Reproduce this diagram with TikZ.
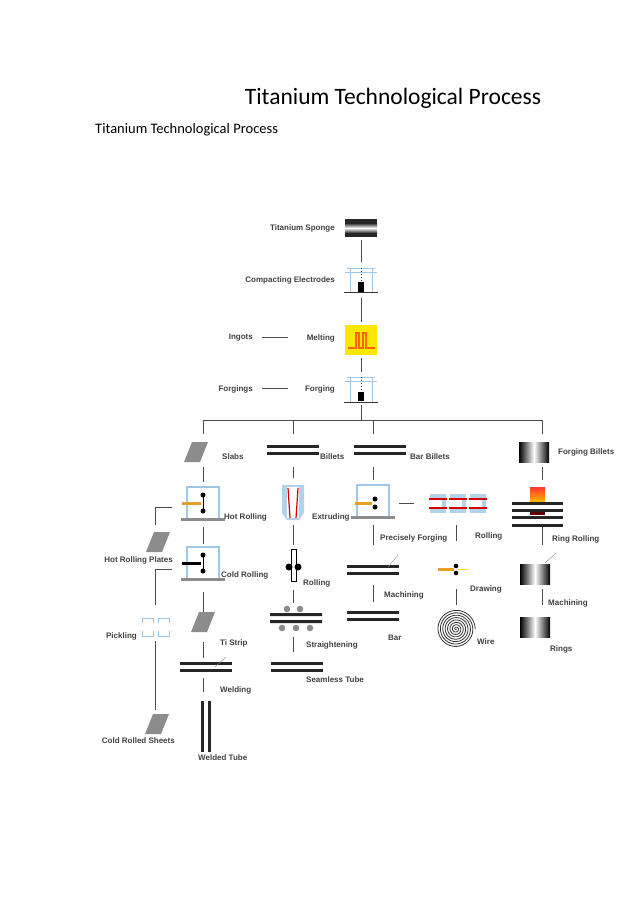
\documentclass[tikz,border=0pt]{standalone}
\usepackage{fontspec}
\setmainfont{Carlito}
\newfontfamily\lblfont{Liberation Sans}
\usetikzlibrary{calc}
\definecolor{frameblue}{RGB}{160,200,230}
\definecolor{rodorange}{RGB}{230,160,40}
\definecolor{gray1}{RGB}{140,140,140}
\begin{document}
\begin{tikzpicture}[x=1pt,y=-1pt,
  lbl/.style={font=\lblfont\bfseries\fontsize{8}{9}\selectfont, text=black!75, inner sep=0},
  ln/.style={draw=black!70, line width=0.9pt},
  bar/.style={fill=black!85},
  para/.style={fill=gray1},
  fr/.style={draw=frameblue, line width=1.6pt},
  pics/dbars/.style={code={
    \fill[black!85] (-26,-5) rectangle (26,-2);
    \fill[black!85] (-26,2) rectangle (26,5);}},
  pics/plate/.style={code={
    \fill[gray1] (-12,10) -- (-4,-10) -- (12,-10) -- (4,10) -- cycle;}},
  pics/press/.style={code={
    \draw[fr] (-16,15) -- (-16,-16) -- (16,-16) -- (16,15);
    \fill[gray1] (-22,15) rectangle (22,18);}},
  pics/gradsq/.style={code={
    \shade[left color=black, right color=black, middle color=white] (-15,-10) rectangle (15,10);}},
]
\useasboundingbox (0,0) rectangle (638,903);
% titles
\node[font=\fontsize{23.5}{28}\selectfont, anchor=base] (title) at (393,104) {Titanium Technological Process};
\node[font=\fontsize{14.5}{17}\selectfont, anchor=base west, inner sep=0] (sub) at (95,133) {Titanium Technological Process};

% ---------- main column x=361
\fill[black!85] (345,219) rectangle (377,223);
\shade[top color=black!85,bottom color=black!85,middle color=white] (345,223) rectangle (377,233);
\fill[black!85] (345,233) rectangle (377,237);
\node[lbl, anchor=east] (sponge) at (335,228) {Titanium Sponge};
\coordinate (m1a) at (361,240); \coordinate (m1b) at (361,262);
\draw[ln] (m1a) -- (m1b);
% compacting
\draw[fr,line width=1pt] (347,268) -- (375,268) (345,272)--(377,272) (350,268)--(350,292) (372,268)--(372,292);
\draw[black!80,dotted,line width=1pt] (361,268) -- (361,282);
\fill[black] (358,282) rectangle (364,292);
\draw[black!80,line width=0.8pt] (344,292) -- (378,292);
\node[lbl, anchor=east] (compact) at (335,280) {Compacting Electrodes};
\coordinate (m2a) at (361,298); \coordinate (m2b) at (361,322);
\draw[ln] (m2a) -- (m2b);
% melting
\fill[yellow!90!orange] (345,325) rectangle (377,355);
\draw[orange!80!red, line width=1.3pt] (348,348) -- (356,348) -- (356,333) -- (359,333) -- (359,348) -- (363,348) -- (363,333) -- (366,333) -- (366,348) -- (375,348);
\node[lbl, anchor=east] (melting) at (335,338) {Melting};
\node[lbl, anchor=east] (ingots) at (253,338) {Ingots};
\coordinate (ia) at (262,337); \coordinate (ib) at (288,337);
\draw[ln] (ia) -- (ib);
\coordinate (m3a) at (361,358); \coordinate (m3b) at (361,372);
\draw[ln] (m3a) -- (m3b);
% forging
\draw[fr,line width=1pt] (347,377) -- (375,377) (345,381)--(377,381) (350,377)--(350,402) (372,377)--(372,402);
\draw[black!80,dotted,line width=1pt] (361,377) -- (361,392);
\fill[black] (358,392) rectangle (364,401);
\draw[black!80,line width=0.8pt] (344,402) -- (378,402);
\node[lbl, anchor=east] (forging) at (335,389) {Forging};
\node[lbl, anchor=east] (forgings) at (253,389) {Forgings};
\coordinate (fa) at (262,388); \coordinate (fb) at (288,388);
\draw[ln] (fa) -- (fb);
\coordinate (m4a) at (361,405); \coordinate (m4b) at (361,420);
\draw[ln] (m4a) -- (m4b);
% distribution bar
\coordinate (dl) at (203,420); \coordinate (dr) at (542,420);
\draw[ln] (dl) -- (dr);
\foreach \x/\n in {203/a,293/b,373/c,542/d}{
  \coordinate (d\n1) at (\x,420); \coordinate (d\n2) at (\x,434);
  \draw[ln] (d\n1) -- (d\n2);}

% ---------- Slabs column x=203
\pic at (196,452) {plate};
\node[lbl, anchor=west] (slabs) at (222,457) {Slabs};
\coordinate (s1a) at (203,467); \coordinate (s1b) at (203,482);
\draw[ln] (s1a) -- (s1b);
\pic at (203,503) {press};
\fill[rodorange] (182,502) rectangle (201,505);
\draw[black,line width=1pt] (203,495) -- (203,511);
\fill[black] (203,495) circle (2.5) (203,511) circle (2.5);
\node[lbl, anchor=west] (hotroll) at (224,517) {Hot Rolling};
\coordinate (s2a) at (203,527); \coordinate (s2b) at (203,544);
\draw[ln] (s2a) -- (s2b);
\pic at (203,563) {press};
\fill[black] (182,562) rectangle (201,565);
\draw[black,line width=1pt] (203,555) -- (203,571);
\fill[black] (203,555) circle (2.5) (203,571) circle (2.5);
\node[lbl, anchor=west] (coldroll) at (221,575) {Cold Rolling};
\coordinate (s3a) at (203,592); \coordinate (s3b) at (203,612);
\draw[ln] (s3a) -- (s3b);
\pic at (203,622) {plate};
\node[lbl, anchor=west] (tistrip) at (220,643) {Ti Strip};
\coordinate (s4a) at (203,642); \coordinate (s4b) at (203,658);
\draw[ln] (s4a) -- (s4b);
\pic at (206,667) {dbars};
\draw[gray1] (215,667) -- (226,657);
\node[lbl, anchor=west] (welding) at (220,690) {Welding};
\coordinate (s5a) at (203,678); \coordinate (s5b) at (203,692);
\draw[ln] (s5a) -- (s5b);
\fill[black!85] (201,701) rectangle (204,752);
\fill[black!85] (208,701) rectangle (211,752);
\node[lbl, anchor=west] (weldtube) at (198,758) {Welded Tube};

% ---------- plates / pickling branch x=155
\coordinate (p1a) at (172,507); \coordinate (p1c) at (155,507); \coordinate (p1b) at (155,525);
\draw[ln] (p1a) -- (p1c) -- (p1b);
\pic at (158,542) {plate};
\node[lbl, anchor=east] (hrplates) at (173,560) {Hot Rolling Plates};
\coordinate (p2a) at (172,569); \coordinate (p2c) at (155,569); \coordinate (p2b) at (155,605);
\draw[ln] (p2a) -- (p2c) -- (p2b);
\draw[frameblue,line width=1pt] (142,623)--(142,618)--(153,618)--(153,623) (142,631)--(142,636)--(153,636)--(153,631);
\draw[frameblue,line width=1pt] (158,623)--(158,618)--(169,618)--(169,623) (158,631)--(158,636)--(169,636)--(169,631);
\node[lbl, anchor=east] (pickling) at (137,636) {Pickling};
\coordinate (p3a) at (155,641); \coordinate (p3b) at (155,710);
\draw[ln] (p3a) -- (p3b);
\pic at (157,724) {plate};
\node[lbl, anchor=east] (crsheets) at (175,741) {Cold Rolled Sheets};

% ---------- Billets column x=293
\pic at (293,450) {dbars};
\node[lbl, anchor=west] (billets) at (320,457) {Billets};
\coordinate (b1a) at (293,467); \coordinate (b1b) at (293,478);
\draw[ln] (b1a) -- (b1b);
\fill[frameblue!80] (282,485) -- (304,485) -- (304,513) -- (299,520) -- (287,520) -- (282,513) -- cycle;
\fill[white] (287,487) rectangle (299,518);
\draw[red!85!black,line width=1.2pt] (288,488)--(290,518) (298,488)--(296,518);
\node[lbl, anchor=west] (extruding) at (312,517) {Extruding};
\coordinate (b2a) at (293,525); \coordinate (b2b) at (293,545);
\draw[ln] (b2a) -- (b2b);
\draw[black,line width=0.8pt] (291,549) rectangle (296,581);
\fill[black] (289,567) circle (3.5) (298,567) circle (3.5);
\node[lbl, anchor=west] (rolling1) at (303,583) {Rolling};
\coordinate (b3a) at (293,590); \coordinate (b3b) at (293,603);
\draw[ln] (b3a) -- (b3b);
\fill[gray1] (287,609) circle (3.3) (300,609) circle (3.3) (282,628) circle (3.3) (296,628) circle (3.3) (310,628) circle (3.3);
\fill[black!85] (270,613) rectangle (322,616) (270,620) rectangle (322,623);
\node[lbl, anchor=west] (straight) at (306,645) {Straightening};
\coordinate (b4a) at (293,637); \coordinate (b4b) at (293,652);
\draw[ln] (b4a) -- (b4b);
\pic at (297,667) {dbars};
\node[lbl, anchor=west] (seamless) at (306,680) {Seamless Tube};

% ---------- Bar billets column x=373
\pic at (380,450) {dbars};
\node[lbl, anchor=west] (barbillets) at (410,457) {Bar Billets};
\coordinate (c1a) at (373,467); \coordinate (c1b) at (373,480);
\draw[ln] (c1a) -- (c1b);
\pic at (373,501) {press};
\fill[rodorange] (355,502) rectangle (372,505);
\fill[black] (375,499) circle (2.5) (375,507) circle (2.5);
\coordinate (c5a) at (399,503); \coordinate (c5b) at (414,503);
\draw[ln] (c5a) -- (c5b);
\foreach \x in {430,450,470}{
  \fill[frameblue!80] (\x,494) rectangle (\x+16,513);
  \draw[red!85!black,line width=1.4pt] (\x-1,499) -- (\x+17,499) (\x-1,508) -- (\x+17,508);
  \fill[white] (\x,500) rectangle (\x+12,507);}
\node[lbl, anchor=west] (rolling2) at (475,536) {Rolling};
\coordinate (c2a) at (373,525); \coordinate (c2b) at (373,545);
\draw[ln] (c2a) -- (c2b);
\coordinate (c6a) at (456,525); \coordinate (c6b) at (456,541);
\draw[ln] (c6a) -- (c6b);
\node[lbl, anchor=west] (precise) at (380,538) {Precisely Forging};
\pic at (373,570) {dbars};
\draw[gray1] (388,567) -- (398,555);
\coordinate (c3a) at (373,585); \coordinate (c3b) at (373,602);
\draw[ln] (c3a) -- (c3b);
\node[lbl, anchor=west] (mach1) at (384,595) {Machining};
\pic at (373,616) {dbars};
\node[lbl, anchor=west] (bar) at (388,638) {Bar};

% ---------- Drawing / wire x=456
\fill[rodorange] (438,568) rectangle (454,571);
\draw[yellow!80!orange,line width=1pt] (458,569) -- (468,569);
\fill[black] (456,566) circle (2.3) (456,573) circle (2.3);
\node[lbl, anchor=west] (drawing) at (470,589) {Drawing};
\coordinate (w1a) at (456,589); \coordinate (w1b) at (456,605);
\draw[ln] (w1a) -- (w1b);
\draw[black!80,line width=0.8pt,domain=0:8*360,samples=400,variable=\t] plot ({456+2.4*\t/360*cos(\t)},{629+2.4*\t/360*sin(\t)});
\node[lbl, anchor=west] (wire) at (477,642) {Wire};

% ---------- Forging billets x=542
\pic at (534,452) {gradsq};
\node[lbl, anchor=west] (fbillets) at (558,452) {Forging Billets};
\coordinate (e1a) at (542,467); \coordinate (e1b) at (542,480);
\draw[ln] (e1a) -- (e1b);
\shade[top color=red!80, bottom color=orange!60!yellow] (530,487) rectangle (545,501);
\foreach \yy in {502,509,516,524}{\fill[black!85] (512,\yy) rectangle (563,\yy+2.5);}
\fill[red!40!black] (530,512) rectangle (545,515);
\node[lbl, anchor=west] (ringroll) at (552,539) {Ring Rolling};
\coordinate (e2a) at (542,527); \coordinate (e2b) at (542,545);
\draw[ln] (e2a) -- (e2b);
\pic at (535,574) {gradsq};
\draw[gray1] (545,563) -- (556,553);
\coordinate (e3a) at (542,589); \coordinate (e3b) at (542,605);
\draw[ln] (e3a) -- (e3b);
\node[lbl, anchor=west] (mach2) at (548,603) {Machining};
\pic at (535,627) {gradsq};
\node[lbl, anchor=west] (rings) at (550,649) {Rings};
\end{tikzpicture}
\end{document}
